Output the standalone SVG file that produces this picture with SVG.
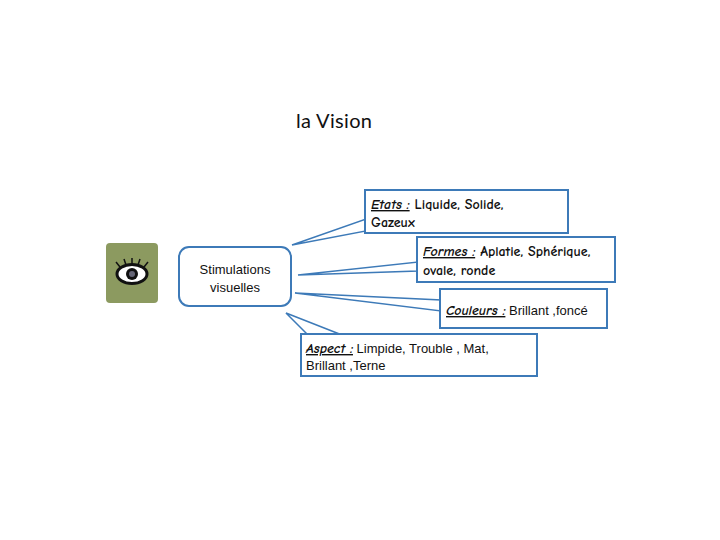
<svg xmlns="http://www.w3.org/2000/svg" width="720" height="540" viewBox="0 0 720 540">
<style>
.box{fill:#fff;stroke:#3d7ab8;stroke-width:2}
.wedge{fill:#fff;stroke:#3d7ab8;stroke-width:1.5;stroke-linejoin:miter}
.t{font-family:"Liberation Sans",Arial,sans-serif;font-size:13px;fill:#111}
.c{font-family:"Comic Neue","DejaVu Sans",sans-serif;font-size:14px;font-weight:bold;fill:#111}
.h{font-family:"Comic Neue","DejaVu Sans",sans-serif;font-style:italic;font-weight:bold;font-size:14px;text-decoration:underline}
</style>
<rect width="720" height="540" fill="#fff"/>
<text x="296" y="128" font-family="Lato,'Liberation Sans',sans-serif" font-size="20" fill="#111" textLength="76">la Vision</text>
<g id="eye">
<rect x="106" y="243" width="52" height="60" rx="4" fill="#8c9a60"/>
<ellipse cx="132" cy="274" rx="15" ry="9.5" fill="#fff" stroke="#111" stroke-width="3"/>
<circle cx="132" cy="274" r="6" fill="#111"/>
<circle cx="132" cy="274" r="3" fill="#667"/>
<g stroke="#111" stroke-width="1.5"><line x1="120" y1="267" x2="116" y2="262"/><line x1="126" y1="265" x2="124" y2="259"/><line x1="132" y1="264.5" x2="132" y2="258"/><line x1="138" y1="265" x2="140" y2="259"/><line x1="144" y1="267" x2="148" y2="262"/></g>
</g>
<g id="connectors">
<polygon class="wedge" points="292,245 366,219 366,231"/>
<polygon class="wedge" points="298,275 418,262 418,271"/>
<polygon class="wedge" points="295,293 441,300 441,311"/>
<polygon class="wedge" points="286,313 342,335 308,335"/>
</g>
<g id="center">
<rect class="box" x="179" y="247" width="112" height="59" rx="10"/>
<text class="t" x="235" y="274" text-anchor="middle">Stimulations</text>
<text class="t" x="235" y="292" text-anchor="middle">visuelles</text>
</g>
<g id="etats">
<rect class="box" x="365" y="190" width="203" height="43"/>
<text class="c" x="371" y="209"><tspan class="h">Etats :</tspan> Liquide, Solide,</text>
<text class="c" x="371" y="227">Gazeux</text>
</g>
<g id="formes">
<rect class="box" x="417" y="237" width="198" height="45"/>
<text class="c" x="423" y="256"><tspan class="h">Formes :</tspan> Aplatie, Sphérique,</text>
<text class="c" x="423" y="275">ovale, ronde</text>
</g>
<g id="couleurs">
<rect class="box" x="440" y="289" width="167" height="39"/>
<text class="t" x="446" y="315"><tspan class="h">Couleurs :</tspan> Brillant ,foncé</text>
</g>
<g id="aspect">
<rect class="box" x="301" y="334" width="236" height="42"/>
<text class="t" x="306" y="353"><tspan class="h">Aspect :</tspan> Limpide, Trouble , Mat,</text>
<text class="t" x="306" y="370">Brillant ,Terne</text>
</g>
</svg>
